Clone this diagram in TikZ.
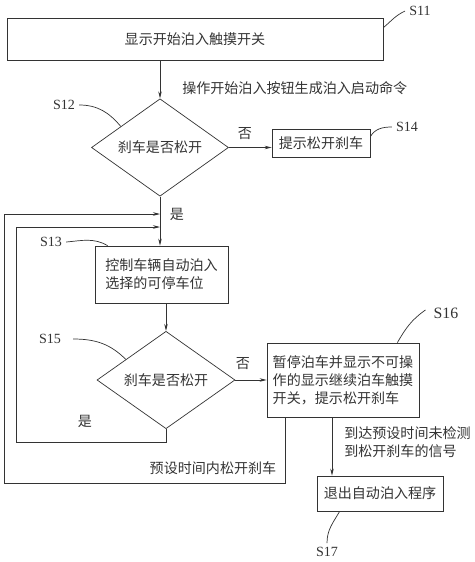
\documentclass[tikz,border=0pt]{standalone}
\usepackage{fontspec}
\setmainfont{Liberation Serif}
\newfontfamily\cjk{Noto Sans CJK SC}
\usetikzlibrary{arrows.meta,positioning,shapes.geometric,calc}
\definecolor{ink}{HTML}{333333}

\begin{document}
\begin{tikzpicture}[x=0.03cm, y=-0.03cm, ink, line width=0.6pt,
  box/.style={draw, font=\cjk\fontsize{12}{15.5}\selectfont, inner sep=2pt},
  dec/.style={draw, diamond, font=\cjk\fontsize{12}{15.5}\selectfont, inner sep=0pt},
  lbl/.style={font=\cjk\fontsize{12}{15.5}\selectfont},
  tag/.style={font=\fontsize{12}{14}\selectfont},
  arr/.style={-{Stealth[length=6pt,width=3pt]}}]
  \useasboundingbox (0,0) rectangle (474,562);

  % steps
  \node[box, minimum width=11.28cm, minimum height=1.26cm] (s11) at (195,39) {显示开始泊入触摸开关};
  \node[dec, minimum width=4.11cm, minimum height=2.67cm] (s12) at (160,147.5) {刹车是否松开};
  \node[box, minimum width=2.94cm, minimum height=0.84cm] (s14) at (321,143) {提示松开刹车};
  \node[box, minimum width=3.99cm, minimum height=1.71cm, align=left] (s13) at (161.5,274.5) {控制车辆自动泊入\\选择的可停车位};
  \node[dec, minimum width=4.14cm, minimum height=2.7cm] (s15) at (166,380) {刹车是否松开};
  \node[box, minimum width=4.56cm, minimum height=2.22cm, align=left] (s16) at (343,380) {暂停泊车并显示不可操\\作的显示继续泊车触摸\\开关，提示松开刹车};
  \node[box, minimum width=3.78cm, minimum height=1.05cm] (s17) at (380,493.5) {退出自动泊入程序};

  \coordinate (j1) at (160,214);
  \coordinate (j2) at (160,227);
  \coordinate (o1) at (285,0);
  \coordinate (c17) at (332,0);

  % flow
  \draw[arr] (s11.south -| s12.north) -- (s12.north);
  \draw[arr] (s12.east) -- (s12.east -| s14.west);
  \draw[arr] (s12.south) -- (s12.south |- s13.north);
  \draw[arr] (s15.north |- s13.south) -- (s15.north);
  \draw[arr] (s15.east) -- (s15.east -| s16.west);
  \draw[arr] (s15.south) |- (16,442) |- (j2);
  \draw[arr] (o1 |- s16.south) |- (4,483) |- (j1);
  \draw[arr] (c17 |- s16.south) -- (c17 |- s17.north);

  \node[lbl, anchor=west] (t1) at (178,88) {操作开始泊入按钮生成泊入启动命令};
  \node[lbl] (no1) at (245,134) {否};
  \node[lbl] (yes1) at (177,214) {是};
  \node[lbl] (no2) at (243,364) {否};
  \node[lbl] (yes2) at (85,421) {是};
  \node[lbl] (t2) at (213,468) {预设时间内松开刹车};
  \node[lbl, anchor=west, align=left] (t3) at (340,442) {到达预设时间未检测\\到松开刹车的信号};

  % step tags
  \node[tag] (l11) at (420,11) {S11};
  \node[tag] (l12) at (64,105) {S12};
  \node[tag] (l14) at (407,127) {S14};
  \node[tag] (l13) at (51,242) {S13};
  \node[tag] (l15) at (50,339) {S15};
  \node[tag, font=\fontsize{13.5}{15}\selectfont] (l16) at (446,313) {S16};
  \node[tag] (l17) at (327,552) {S17};

  \draw (l11.west) to[out=205,in=40] ($(s11.north east)+(0,10)$);
  \draw (l12.east) to[out=0,in=130] ($(s12.north)!0.57!(s12.west)$);
  \draw (l14.west) to[out=180,in=60] ($(s14.north east)+(0,8)$);
  \draw (l13.east) to[out=5,in=150] ($(s13.north west)+(13,0)$);
  \draw ($(l15.east)+(8,0)$) to[out=0,in=135] ($(s15.north)!0.58!(s15.west)$);
  \draw ($(l16.west)+(-4,-3)$) to[out=215,in=60] ($(s16.north east)+(-22,0)$);
  \draw ($(s17.south west)+(23,0)$) to[out=240,in=90] (l17.north);
\end{tikzpicture}
\end{document}
